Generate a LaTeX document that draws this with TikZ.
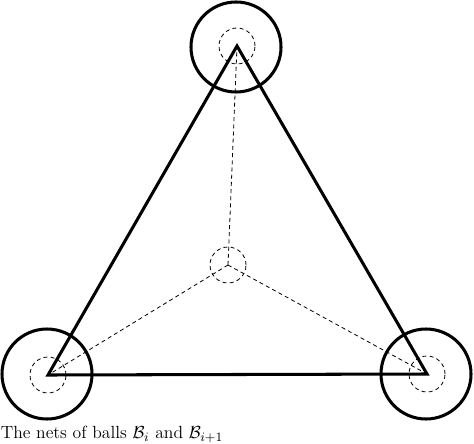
\documentclass[tikz,border=0pt]{standalone}
\usepackage{amsmath}
\begin{document}
\begin{tikzpicture}[x=0.625pt,y=-0.625pt,
  bigball/.style={circle,draw,line width=1.9pt,minimum size=56.25pt,inner sep=0pt},
  smallball/.style={circle,draw,line width=0.5pt,dash pattern=on 2.5pt off 2pt,minimum size=22.5pt,inner sep=0pt},
  edge/.style={line width=1.9pt,line join=miter},
  spoke/.style={line width=0.5pt,dash pattern=on 2.5pt off 2pt}]
\useasboundingbox (0,0) rectangle (474,444);
\coordinate (A) at (237,46);
\coordinate (B) at (48,375);
\coordinate (C) at (427,374);
\coordinate (O) at (228,265);
\node[bigball] (bA) at (236,47) {};
\node[bigball] (bB) at (47,374) {};
\node[bigball] (bC) at (426,374) {};
\node[smallball] (sA) at (A) {};
\node[smallball] (sB) at (B) {};
\node[smallball] (sC) at (C) {};
\node[smallball] (sO) at (O) {};
\draw[spoke] (O) -- (A);
\draw[spoke] (O) -- (B);
\draw[spoke] (O) -- (C);
\draw[edge] (A) -- (B) -- (C) -- cycle;
\node[anchor=base west,inner sep=0pt,font=\fontsize{11}{13}\selectfont] (cap) at (0.5,438.5) {The nets of balls $\mathcal{B}_i$ and $\mathcal{B}_{i+1}$};
\end{tikzpicture}
\end{document}
